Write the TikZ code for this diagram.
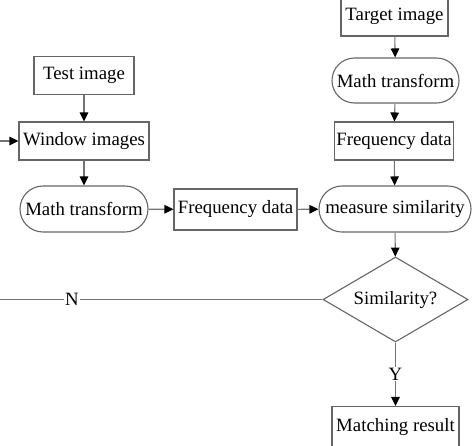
\documentclass[tikz,border=0pt]{standalone}
\usepackage{fontspec}
\setmainfont{Liberation Serif}
\usetikzlibrary{shapes,arrows.meta,positioning,calc}
\tikzset{
  >={Triangle[black,length=9pt,width=8.5pt]},
  box/.style={draw=black!60,line width=1.1pt,align=center,inner sep=2pt,minimum height=38pt},
  rbox/.style={draw=black!60,line width=1.1pt,rounded rectangle,align=center,inner sep=2pt,minimum height=46pt},
  dec/.style={draw=black!60,line width=1.1pt,diamond,aspect=1.7,inner sep=0pt,minimum width=145pt,minimum height=85pt},
  link/.style={draw=black!55,line width=1.1pt,->},
  lab/.style={fill=white,inner sep=1pt}
}
\begin{document}
\begin{tikzpicture}[x=1pt,y=-1pt,
  every node/.style={font=\fontsize{18.8}{22}\selectfont}]
\useasboundingbox (0,0) rectangle (474,445);
\clip (0,0) rectangle (474,445);
% left column
\node[box,minimum width=100pt] (test) at (84,75.5) {Test image};
\node[box,minimum width=130pt] (win) at (84,141) {Window images};
\node[rbox,minimum width=132pt] (mt1) at (84,209) {Math transform};
\node[box,minimum width=123pt,minimum height=41pt] (fd1) at (235.5,209.5) {Frequency data};
% right column
\node[box,minimum width=107pt,minimum height=40pt] (tgt) at (394.5,16) {Target image};
\node[rbox,minimum width=131pt,minimum height=45pt] (mt2) at (395.5,80.5) {Math transform};
\node[box,minimum width=116pt] (fd2) at (394,141) {Frequency data};
\node[rbox,minimum width=156pt] (ms) at (395,209) {measure similarity};
\node[dec] (sim) at (395.5,299.5) {Similarity?};
\node[box,minimum width=127pt,minimum height=41pt] (res) at (395.5,427) {Matching result};
\coordinate (wl) at (0,141);
\coordinate (nl) at (0,299.5);

\draw[link] (test) -- (win);
\draw[link] (wl) -- (win);
\draw[link] (win) -- (mt1);
\draw[link] (mt1) -- (fd1);
\draw[link] (fd1) -- (ms);
\draw[link] (tgt) -- (mt2);
\draw[link] (mt2) -- (fd2);
\draw[link] (fd2) -- (ms);
\draw[link] (ms) -- (sim);
\draw[link] (sim) -- node[lab]{Y} (res);
\draw[draw=black!55,line width=1.1pt] (sim.west) -- node[lab,pos=0.777]{N} (nl);
\end{tikzpicture}
\end{document}
